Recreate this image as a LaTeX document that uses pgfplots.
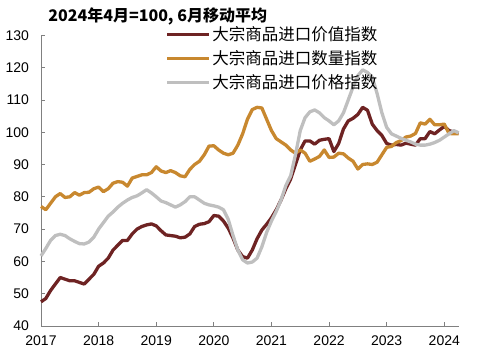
\documentclass[border=0pt]{standalone}
\usepackage{fontspec}
\setmainfont{Liberation Sans}
\newfontfamily\cjk{Noto Sans CJK SC}
\usepackage{pgfplots}
\usepackage{pgfplotstable}
\pgfplotsset{compat=1.18}
\definecolor{cval}{HTML}{6E2323}
\definecolor{cqty}{HTML}{C8882F}
\definecolor{cprc}{HTML}{BFBFBF}
\definecolor{axgray}{HTML}{808080}

\pgfplotstableread{
m v
0 47.5
1 48.5
2 51
3 53
4 55
5 54.5
6 54
7 54
8 53.5
9 53
10 54.5
11 56
12 58.5
13 59.5
14 61
15 63.5
16 65
17 66.5
18 66.5
19 68.5
20 70
21 70.8
22 71.3
23 71.6
24 71
25 69.5
26 68.2
27 68
28 67.8
29 67.3
30 67.5
31 68.5
32 70.8
33 71.5
34 71.7
35 72.3
36 74.2
37 74
38 72.5
39 70.3
40 67.2
41 63.5
42 61.5
43 61
44 63.5
45 67
46 69.7
47 71.5
48 73.5
49 76
50 79
51 82.5
52 85.5
53 90
54 94.5
55 97.3
56 97.3
57 96.3
58 97.5
59 97.8
60 98
61 94
62 96.5
63 101
64 103.5
65 104.3
66 105.5
67 107.7
68 106.8
69 102.5
70 100.5
71 99
72 96.5
73 96
74 96.2
75 96
76 96.6
77 96.3
78 96
79 98
80 98
81 100.2
82 99.5
83 100.7
84 101.8
85 100.5
86 100
87 99.8
}\tvalue

\pgfplotstableread{
m v
0 77
1 76
2 78
3 80
4 81
5 79.8
6 80
7 81.3
8 80.5
9 81.3
10 81.4
11 82.5
12 83
13 81.6
14 82.5
15 84.2
16 84.7
17 84.5
18 83.3
19 85.8
20 86.3
21 86.8
22 86.8
23 87.5
24 89.3
25 88
26 87.5
27 88.1
28 87.5
29 86.5
30 86.2
31 88.5
32 90
33 91
34 93
35 95.7
36 95.8
37 94.5
38 93.5
39 93
40 93.5
41 96
42 99.5
43 104
44 107
45 107.7
46 107.5
47 104
48 100.5
49 98
50 97
51 96
52 94.5
53 93.5
54 94.5
55 93.5
56 91
57 91.7
58 92.5
59 94.5
60 92.2
61 92.3
62 93.5
63 93.3
64 92
65 91
66 88.6
67 90
68 90.2
69 90
70 90.7
71 93
72 95.3
73 95.6
74 96.8
75 97.4
76 98.5
77 98.8
78 99.6
79 102.9
80 102.5
81 104
82 102.3
83 102.3
84 102.5
85 99.6
86 99.5
87 99.5
}\tqty

\pgfplotstableread{
m v
0 61.7
1 64
2 66.5
3 68
4 68.4
5 68
6 67
7 66.2
8 65.5
9 65.4
10 66
11 67.5
12 70
13 72
14 74
15 75.3
16 76.8
17 78
18 79
19 79.8
20 80.3
21 81.2
22 82.2
23 81.2
24 80
25 78.7
26 78.2
27 77.5
28 76.8
29 77.5
30 78.5
31 80
32 80
33 79
34 78
35 77.5
36 77.2
37 76.8
38 76
39 73
40 68
41 63.5
42 60.5
43 59.5
44 59.8
45 61
46 64.5
47 69
48 72.5
49 75.5
50 79
51 83.5
52 86.5
53 93
54 100.5
55 104.5
56 106.3
57 106.9
58 106
59 104.5
60 103.5
61 102.3
62 103.5
63 106
64 110
65 114
66 117.5
67 119.3
68 118.5
69 117
70 112
71 106
72 101.5
73 99.5
74 98.8
75 98.1
76 97.5
77 97
78 96.3
79 96
80 96
81 96.3
82 96.8
83 97.5
84 98.5
85 99.5
86 100.5
87 99.8
}\tprice

\begin{document}
\begin{tikzpicture}
\useasboundingbox (0,0) rectangle (487bp,357bp);
\begin{axis}[
  at={(41bp,31bp)}, anchor=south west,
  scale only axis, width=417.7bp, height=290.7bp,
  xmin=0, xmax=87, ymin=40, ymax=130,
  clip=false,
  axis lines*=left,
  axis line style={draw=axgray, line width=0.8pt},
  tick style={draw=axgray, line width=0.8pt},
  major tick length=4bp, tick align=inside,
  xtick={0,12,24,36,48,60,72,84},
  xticklabels={2017,2018,2019,2020,2021,2022,2023,2024},
  ytick={40,50,...,130},
  /pgf/number format/assume math mode=true,
  tick label style={font=\fontsize{14bp}{16bp}\selectfont},
  yticklabel style={xshift=-8.5bp},
  xticklabel style={yshift=-6bp},
  legend style={at={(axis description cs:0.297,1.035)}, anchor=north west, draw=none, fill=none,
    font=\cjk\fontsize{16.5bp}{18bp}\selectfont, row sep=5.5bp, inner sep=0pt,
    nodes={inner sep=1.5bp}},
  legend cell align=left,
  legend image code/.code={\draw[#1, line width=3.5bp] (0bp,0bp) -- (42bp,0bp);},
  every axis plot/.append style={line width=3.3bp, line join=round, no markers},
]
\addplot[cval] table[x=m, y=v] {\tvalue};
\addplot[cqty] table[x=m, y=v] {\tqty};
\addplot[cprc] table[x=m, y=v] {\tprice};
\legend{大宗商品进口价值指数, 大宗商品进口数量指数, 大宗商品进口价格指数}
\node[anchor=west, inner sep=0pt, font=\cjk\bfseries\fontsize{16bp}{18bp}\selectfont] at (axis description cs:0.017,1.065) {2024年4月=100, 6月移动平均};
\end{axis}
\end{tikzpicture}
\end{document}
